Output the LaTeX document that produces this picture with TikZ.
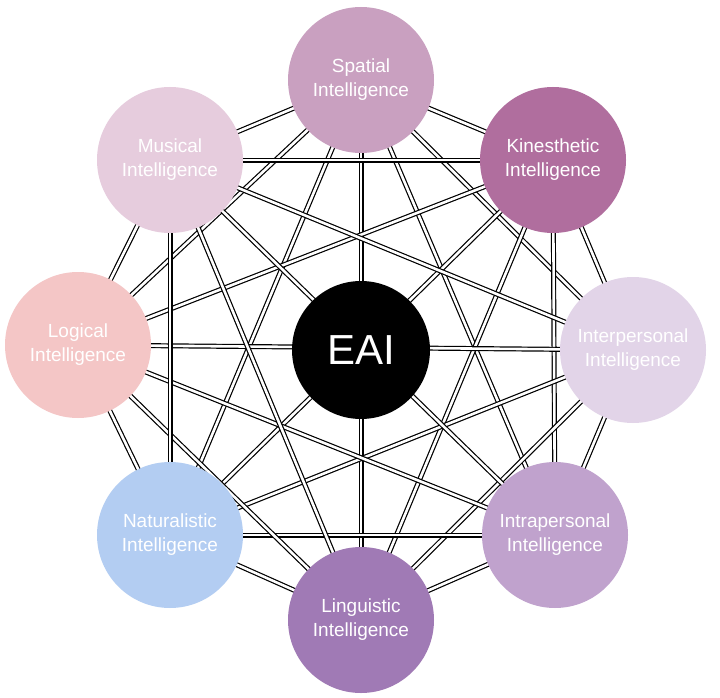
\documentclass[tikz,border=0pt]{standalone}
\usepackage{fontspec}
\setmainfont{Liberation Sans}
\begin{document}
\begin{tikzpicture}[x=1pt,y=-1pt,
  link/.style={draw=black,line width=1.2pt,double=white,double distance=2.6pt},
  intel/.style={circle,minimum size=146pt,inner sep=0pt,text=white,align=center,font=\fontsize{19}{24}\selectfont}]
\useasboundingbox[fill=white] (0,0) rectangle (720,698);
\coordinate (p1) at (361,80);
\coordinate (p2) at (553,160);
\coordinate (p3) at (633,350);
\coordinate (p4) at (555,535);
\coordinate (p5) at (361,620);
\coordinate (p6) at (170,535);
\coordinate (p7) at (78,345);
\coordinate (p8) at (170,160);
\foreach \i in {1,...,8}{\foreach \j in {1,...,8}{\ifnum\i<\j \draw[link] (p\i) -- (p\j);\fi}}
\node[intel,fill=black,minimum size=138pt,font=\fontsize{42}{46}\selectfont] (eai) at (361,350) {EAI};
\node[intel,fill={rgb,255:red,201;green,160;blue,192}] (spa) at (p1) {Spatial\\Intelligence};
\node[intel,fill={rgb,255:red,176;green,110;blue,158}] (kin) at (p2) {Kinesthetic\\Intelligence};
\node[intel,fill={rgb,255:red,226;green,212;blue,232}] (inter) at (p3) {Interpersonal\\Intelligence};
\node[intel,fill={rgb,255:red,192;green,162;blue,205}] (intra) at (p4) {Intrapersonal\\Intelligence};
\node[intel,fill={rgb,255:red,160;green,122;blue,181}] (lin) at (p5) {Linguistic\\Intelligence};
\node[intel,fill={rgb,255:red,179;green,205;blue,242}] (nat) at (p6) {Naturalistic\\Intelligence};
\node[intel,fill={rgb,255:red,244;green,198;blue,198}] (log) at (p7) {Logical\\Intelligence};
\node[intel,fill={rgb,255:red,230;green,204;blue,221}] (mus) at (p8) {Musical\\Intelligence};
\end{tikzpicture}
\end{document}
